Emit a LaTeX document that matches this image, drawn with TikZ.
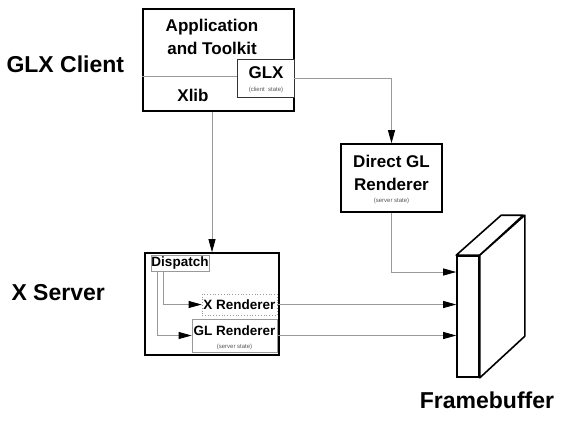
\documentclass[tikz,border=0pt]{standalone}
\usepackage{fontspec}
\setmainfont{Liberation Sans}
\usetikzlibrary{arrows.meta,positioning,calc}

\tikzset{
    bigbox/.style={draw=black, line width=1.6pt, fill=white, inner sep=0pt},
    subbox/.style={draw=gray!80, line width=0.8pt, fill=white, inner sep=0pt},
    arr/.style={draw=gray!80, line width=0.8pt,
        -{Triangle[length=13pt,width=7pt,black]}},
    bigtxt/.style={font=\fontsize{23}{25}\selectfont\bfseries},
    boxtxt/.style={font=\fontsize{17}{22.5}\selectfont\bfseries, align=center},
    smalltxt/.style={font=\fontsize{13.5}{15}\selectfont\bfseries},
    statetxt/.style={font=\fontsize{6}{7}\selectfont, text=gray!70!black}
}

\begin{document}
\begin{tikzpicture}[x=1pt,y=-1pt]
    \useasboundingbox (0,0) rectangle (572,424);

    % Side labels
    \node[bigtxt, anchor=west] (lclient) at (3,64) {GLX Client};
    \node[bigtxt, anchor=west] (lserver) at (8,293) {X Server};

    % GLX client box
    \node[bigbox, minimum width=151pt, minimum height=102pt] (client) at (218.5,60) {};
    \node[boxtxt] (app) at (212,37) {Application\\and Toolkit};
    \node[subbox, draw=gray!40!black, minimum width=57pt, minimum height=38pt] (glx) at (265.5,78) {};
    \node[boxtxt] (glxtxt) at (266,73) {GLX};
    \node[statetxt] (cstate) at (266,90) {(client\ \ state)};
    \draw[gray!80, line width=0.8pt] (client.west |- 0,76) -- (glx.west |- 0,76);
    \node[boxtxt] (xlib) at (193,95) {Xlib};

    % Direct GL renderer
    \node[bigbox, minimum width=101pt, minimum height=68pt] (direct) at (391.5,178) {};
    \node[boxtxt] (dirtxt) at (391.5,173) {Direct GL\\Renderer};
    \node[statetxt] (dstate) at (391.5,201) {(server state)};

    % X server box
    \node[bigbox, minimum width=134pt, minimum height=102pt] (xsrv) at (212,304) {};
    \node[subbox, minimum width=58pt, minimum height=16pt, smalltxt] (disp) at (180,263) {Dispatch};
    \node[subbox, dotted, minimum width=75pt, minimum height=21pt, smalltxt] (xren) at (239.5,304.5) {X Renderer};
    \node[subbox, minimum width=85pt, minimum height=33pt] (glren) at (234.5,335.5) {};
    \node[smalltxt] (gltxt) at (234.5,331) {GL Renderer};
    \node[statetxt] (gstate) at (234.5,347) {(server state)};

    % Framebuffer
    \node[bigbox, minimum width=22pt, minimum height=121pt] (fb) at (468,316.5) {};
    \draw[black, line width=1.6pt, line join=round, fill=white]
        (fb.north west) -- ++(45,-40) -- ++(22,0) -- (fb.north east) -- cycle;
    \draw[black, line width=1.6pt, line join=round, fill=white]
        (fb.north east) -- ++(45,-40) -- ++(0,121) -- (fb.south east) -- cycle;
    \node[bigtxt] (lfb) at (487,400) {Framebuffer};

    % Connectors
    \draw[arr] (client.south -| xsrv.north) -- (xsrv.north);
    \draw[arr] (glx.east) -| (direct.north);
    \draw[arr] (direct.south) |- ([yshift=44.5pt]fb.west);
    \draw[arr] ([xshift=-17pt]disp.south) |- (xren.west);
    \draw[arr] ([xshift=-23pt]disp.south) |- (glren.west);
    \draw[arr] (xren.east) -- (xren.east -| fb.west);
    \draw[arr] (glren.east) -- (glren.east -| fb.west);

\end{tikzpicture}
\end{document}
